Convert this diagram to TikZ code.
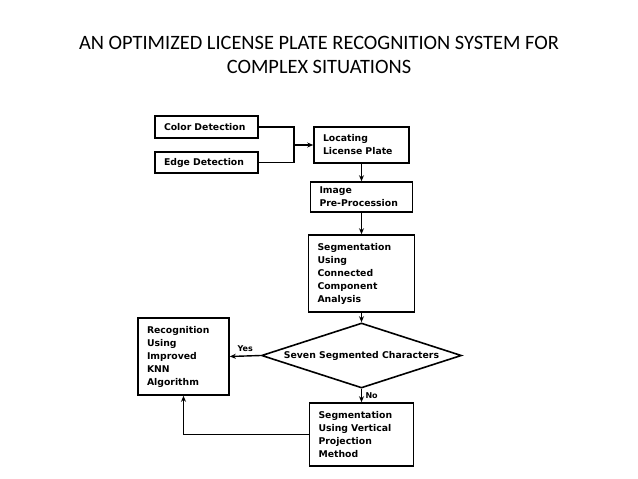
\documentclass[tikz,border=0pt]{standalone}
\usepackage{fontspec}
\setmainfont{Carlito}
\newfontfamily\boxfont{DejaVu Sans}
\usetikzlibrary{shapes.geometric,arrows.meta}

\tikzset{
  box/.style={draw, line width=1.6pt, align=left, inner xsep=9pt, inner ysep=0pt,
    font=\boxfont\bfseries\fontsize{9.3}{13}\selectfont},
  flow/.style={line width=1.4pt, -{Stealth[length=6pt,width=5pt]}},
  lbl/.style={font=\boxfont\bfseries\fontsize{8}{10}\selectfont},
}

\begin{document}
\begin{tikzpicture}[x=1pt,y=-1pt]
\useasboundingbox (0,0) rectangle (638,479);

\node (title) at (319,55)[align=center, font=\fontsize{20.4}{24}\selectfont]
  {AN OPTIMIZED LICENSE PLATE RECOGNITION SYSTEM FOR\\COMPLEX SITUATIONS};

\node (color) at (206.5,127)[box, text width=85pt, minimum height=22pt] {Color Detection};
\node (edge) at (206.5,162.5)[box, text width=85pt, minimum height=21pt] {Edge Detection};
\coordinate (jn) at (294,145);

\node (locate) at (361.5,145)[box, text width=77pt, minimum height=36pt] {Locating\\License Plate};
\node (image) at (361.5,197)[box, text width=84pt, minimum height=30pt] {Image\\Pre-Procession};
\node (segcc) at (361.5,273.5)[box, text width=88pt, minimum height=77pt]
  {Segmentation\\Using\\Connected\\Component\\Analysis};
\node (check) at (361.5,355.5)[draw, diamond, aspect=3, line width=1.6pt, inner sep=0pt,
  minimum width=200pt, minimum height=65pt, font=\boxfont\bfseries\fontsize{9.3}{13}\selectfont]
  {Seven Segmented Characters};
\node (knn) at (183.5,356.5)[box, text width=73pt, minimum height=77pt]
  {Recognition\\Using\\Improved\\KNN\\Algorithm};
\node (segvp) at (361.5,434.5)[box, text width=86pt, minimum height=63pt]
  {Segmentation\\Using Vertical\\Projection\\Method};

% connectors
\draw[line width=1.4pt] (color.east) -| (jn);
\draw[line width=1.4pt] (edge.east) -| (jn);
\draw[flow] (jn) -- (locate.west);
\draw[flow] (locate.south) -- (image.north);
\draw[flow] (image.south) -- (segcc.north);
\draw[flow] (segcc.south) -- (check.north);
\draw[flow] (check.west) -- (knn.east) node[lbl, midway, above] {Yes};
\draw[flow] (check.south) -- (segvp.north) node[lbl, midway, right] {No};
\draw[flow] (segvp.west) -| (knn.south);
\end{tikzpicture}
\end{document}
